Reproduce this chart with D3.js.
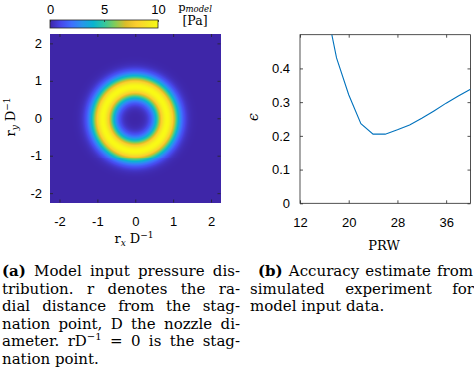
<!DOCTYPE html>
<html><head><meta charset="utf-8">
<script src="https://cdn.jsdelivr.net/npm/d3@7"></script>
<style>body{margin:0;background:#fff}svg{display:block}</style>
</head><body>
<svg id="c" width="474" height="381"></svg>
<script>
// ---- data ----
// radial pressure profile: radius (rD^-1) and pressure (Pa)
const radius = [0,0.05,0.1,0.15,0.2,0.25,0.3,0.35,0.4,0.45,0.5,0.55,0.6,0.65,0.7,0.75,0.8,0.85,
  0.9,0.95,1.0,1.05,1.1,1.15,1.2,1.25,1.3,1.35,1.4,1.45,1.5,1.55,1.6,1.65,1.7,3.3];
const pressure = [0,0.01,0.03,0.06,0.13,0.24,0.44,0.76,1.23,1.91,2.82,3.95,5.24,6.62,7.93,9.02,9.75,10,
  9.75,9.02,7.93,6.62,5.24,3.95,2.82,1.91,1.23,0.76,0.44,0.24,0.13,0.06,0.03,0.01,0,0];
const colorbarTicks = [0,5,10];
const rTicks = [-2,-1,0,1,2];
// panel (b)
const prw = [16,18,20,22,24,26,28,30,32,34,36,38,40];
const eps = [0.61,0.431,0.322,0.236,0.205,0.205,0.218,0.232,0.252,0.274,0.297,0.318,0.338];
const prwTicks = [12,20,28,36];
const epsTicks = [0,0.1,0.2,0.3,0.4];
const parula = ["#3e26a8","#4747eb","#3e6ffe","#2796eb","#08b4d0","#32c69f","#81cc59","#dcbd29","#fcce2e","#f5e524","#f9fb14"];

const svg = d3.select("#c");
const axisCol = "#262626";
const sansFont = "'Liberation Sans', Arial, sans-serif";
const serifFont = "'DejaVu Serif', 'Liberation Serif', serif";

// ---- panel (a) heatmap ----
const xA = d3.scaleLinear().domain([-2.25,2.25]).range([50,220.5]);
const yA = d3.scaleLinear().domain([-2.25,2.25]).range([202.5,34]);
const prof = d3.scaleLinear().domain(radius).range(pressure).clamp(true);
const cmap = d3.scaleLinear().domain(d3.range(parula.length).map(i => 10*i/(parula.length-1))).range(parula).clamp(true);

const N = 170, step = 4.5/N;
const cells = [];
for (let i = 0; i < N; i++) for (let j = 0; j < N; j++) {
  const cx = -2.25 + (i+0.5)*step, cy = -2.25 + (j+0.5)*step;
  cells.push({x0: -2.25 + i*step, y1: -2.25 + (j+1)*step, v: prof(Math.hypot(cx, cy))});
}
const cw = xA(step) - xA(0), ch = yA(0) - yA(step);
svg.append("g").attr("shape-rendering","crispEdges").selectAll("rect").data(cells).join("rect")
  .attr("x", d => xA(d.x0)).attr("y", d => yA(d.y1))
  .attr("width", cw + 0.6).attr("height", ch + 0.6)
  .attr("fill", d => cmap(d.v));

function styleAxis(g, labels) {
  g.select(".domain").remove();
  g.selectAll(".tick line").attr("stroke", axisCol).attr("stroke-width", 0.8);
  g.selectAll(".tick text").attr("fill", "#000").attr("font-family", sansFont).attr("font-size", 13);
  if (!labels) g.selectAll(".tick text").remove();
}
const fmtA = d => d < 0 ? "-" + Math.abs(d) : String(d);
svg.append("g").attr("transform", `translate(0,${yA.range()[0]})`)
  .call(d3.axisBottom(xA).tickValues(rTicks).tickFormat(fmtA).tickSizeInner(-3).tickSizeOuter(0).tickPadding(14))
  .call(g => styleAxis(g, true));
svg.append("g").attr("transform", `translate(0,${yA.range()[1]})`)
  .call(d3.axisTop(xA).tickValues(rTicks).tickSizeInner(-3).tickSizeOuter(0))
  .call(g => styleAxis(g, false));
svg.append("g").attr("transform", `translate(${xA.range()[0]},0)`)
  .call(d3.axisLeft(yA).tickValues(rTicks).tickFormat(fmtA).tickSizeInner(-3).tickSizeOuter(0).tickPadding(8))
  .call(g => styleAxis(g, true));
svg.append("g").attr("transform", `translate(${xA.range()[1]},0)`)
  .call(d3.axisRight(yA).tickValues(rTicks).tickSizeInner(-3).tickSizeOuter(0))
  .call(g => styleAxis(g, false));

function serifText(sel, size) {
  return sel.attr("font-family", serifFont).attr("font-size", size);
}
// axis labels (a)
const xl = serifText(svg.append("text").attr("x", 134).attr("y", 243).attr("text-anchor","middle"), 13);
xl.append("tspan").text("r");
xl.append("tspan").attr("dy", 3).attr("font-size", 9).attr("font-style","italic").text("x");
xl.append("tspan").attr("dy", -3).text(" D");
xl.append("tspan").attr("dy", -5).attr("font-size", 9).text("−1");
const yl = serifText(svg.append("text").attr("transform","translate(15,117) rotate(-90)").attr("text-anchor","middle"), 13);
yl.append("tspan").text("r");
yl.append("tspan").attr("dy", 3).attr("font-size", 9).attr("font-style","italic").text("y");
yl.append("tspan").attr("dy", -3).text(" D");
yl.append("tspan").attr("dy", -5).attr("font-size", 9).text("−1");

// colorbar
const cb = d3.scaleLinear().domain([0,10]).range([50,158]);
const defs = svg.append("defs");
const grad = defs.append("linearGradient").attr("id","parula");
parula.forEach((c,i) => grad.append("stop").attr("offset", (100*i/(parula.length-1)) + "%").attr("stop-color", c));
svg.append("rect").attr("x", cb(0)).attr("y", 20).attr("width", cb(10)-cb(0)).attr("height", 8)
  .attr("fill","url(#parula)").attr("stroke", axisCol).attr("stroke-width", 0.8);
svg.append("g").attr("transform","translate(0,20)")
  .call(d3.axisTop(cb).tickValues(colorbarTicks).tickFormat(d3.format("d")).tickSizeInner(-2).tickSizeOuter(0).tickPadding(6))
  .call(g => styleAxis(g, true));
const pl = serifText(svg.append("text").attr("x", 195).attr("y", 11).attr("text-anchor","middle"), 11.5);
pl.append("tspan").text("p");
pl.append("tspan").attr("dy", 1).attr("font-size", 8.5).attr("font-style","italic").text("model");
serifText(svg.append("text").attr("x", 195).attr("y", 25).attr("text-anchor","middle"), 12.5).text("[Pa]");

// ---- panel (b) line chart ----
const xB = d3.scaleLinear().domain([12,40]).range([300,470.5]);
const yB = d3.scaleLinear().domain([0,0.5]).range([203.3,34.7]);
defs.append("clipPath").attr("id","clipB").append("rect")
  .attr("x", xB.range()[0]).attr("y", yB.range()[1])
  .attr("width", xB.range()[1]-xB.range()[0]).attr("height", yB.range()[0]-yB.range()[1]);
svg.append("rect").attr("x", xB.range()[0]).attr("y", yB.range()[1])
  .attr("width", xB.range()[1]-xB.range()[0]).attr("height", yB.range()[0]-yB.range()[1])
  .attr("fill","none").attr("stroke", axisCol).attr("stroke-width", 0.8);
svg.append("g").attr("transform", `translate(0,${yB.range()[0]})`)
  .call(d3.axisBottom(xB).tickValues(prwTicks).tickSizeInner(-3).tickSizeOuter(0).tickPadding(14))
  .call(g => styleAxis(g, true));
svg.append("g").attr("transform", `translate(0,${yB.range()[1]})`)
  .call(d3.axisTop(xB).tickValues(prwTicks).tickSizeInner(-3).tickSizeOuter(0))
  .call(g => styleAxis(g, false));
svg.append("g").attr("transform", `translate(${xB.range()[0]},0)`)
  .call(d3.axisLeft(yB).tickValues(epsTicks).tickFormat(d => d === 0 ? "0" : d3.format(".1f")(d)).tickSizeInner(-3).tickSizeOuter(0).tickPadding(10))
  .call(g => styleAxis(g, true));
svg.append("g").attr("transform", `translate(${xB.range()[1]},0)`)
  .call(d3.axisRight(yB).tickValues(epsTicks).tickSizeInner(-3).tickSizeOuter(0))
  .call(g => styleAxis(g, false));
svg.append("path").attr("clip-path","url(#clipB)")
  .datum(prw.map((p,i) => [p, eps[i]]))
  .attr("d", d3.line().x(d => xB(d[0])).y(d => yB(d[1])))
  .attr("fill","none").attr("stroke","#0072bd").attr("stroke-width", 1.1);
serifText(svg.append("text").attr("x", 384).attr("y", 250).attr("text-anchor","middle"), 13).text("PRW");
serifText(svg.append("text").attr("transform","translate(258,117) rotate(-90)").attr("text-anchor","middle"), 14)
  .attr("font-style","italic").text("ϵ");

// ---- captions ----
const capFont = 15;
function captionLine(x0, x1, baseline, words, justify) {
  const g = svg.append("g");
  const items = words.map(w => {
    const t = serifText(g.append("text").attr("y", baseline), capFont);
    w.forEach(part => {
      const s = t.append("tspan").text(part.t);
      if (part.b) s.attr("font-weight","bold");
      if (part.sup) s.attr("dy", -6).attr("font-size", 10);
    });
    return {t, w: t.node().getComputedTextLength()};
  });
  const total = d3.sum(items, d => d.w);
  const space = capFont * 0.32;
  const gap = justify && items.length > 1 ? (x1 - x0 - total) / (items.length - 1) : space;
  let x = x0;
  items.forEach(it => { it.t.attr("x", x); x += it.w + gap; });
}
const W = s => s.split(" ").map(w => [{t: w}]);
const lineH = 17.5;
const capA = [
  [[{t:"(a)", b:true}], ...W("Model input pressure dis-")],
  W("tribution. r denotes the ra-"),
  W("dial distance from the stag-"),
  W("nation point, D the nozzle di-"),
  [[{t:"ameter."}], [{t:"rD"},{t:"−1",sup:true}], [{t:"="}], [{t:"0"}], [{t:"is"}], [{t:"the"}], [{t:"stag-"}]],
  W("nation point.")
];
capA.forEach((ws, i) => captionLine(2, 240, 276 + i*lineH, ws, i < capA.length - 1));
const capB = [
  [[{t:"(b)", b:true}], ...W("Accuracy estimate from")],
  W("simulated experiment for"),
  W("model input data.")
];
captionLine(258, 473, 276, capB[0], true);
captionLine(250, 474, 276 + lineH, capB[1], true);
captionLine(250, 474, 276 + 2*lineH, capB[2], false);
</script>
</body></html>
